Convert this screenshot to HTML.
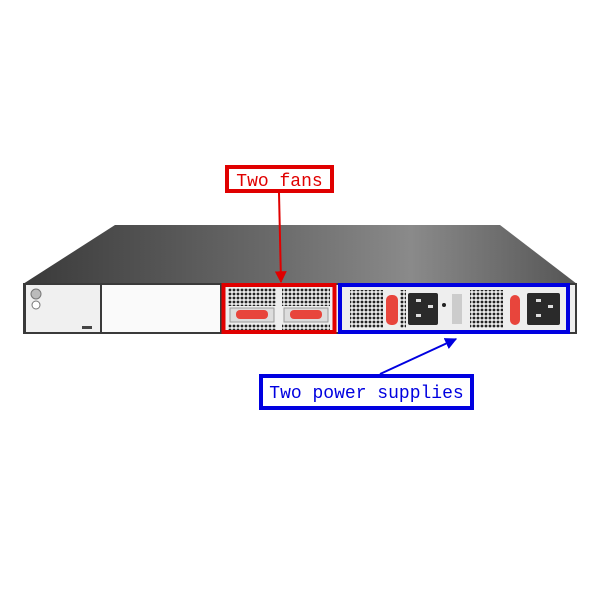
<!DOCTYPE html>
<html><head><meta charset="utf-8"><style>
html,body{margin:0;padding:0;background:#fff;width:600px;height:600px;overflow:hidden}
</style></head><body>
<svg width="600" height="600" viewBox="0 0 600 600" xmlns="http://www.w3.org/2000/svg">
<defs>
<linearGradient id="top" x1="0" y1="0" x2="1" y2="0">
<stop offset="0" stop-color="#3a3a3a"/><stop offset="0.45" stop-color="#6a6a6a"/><stop offset="0.7" stop-color="#8a8a8a"/><stop offset="1" stop-color="#555"/>
</linearGradient>
<pattern id="holes" width="4" height="4" patternUnits="userSpaceOnUse">
<rect width="4" height="4" fill="#e8e8e8"/><circle cx="2" cy="2" r="1.4" fill="#222"/>
</pattern>
<marker id="ar" viewBox="0 0 10 10" refX="9" refY="5" markerWidth="6" markerHeight="6" orient="auto"><path d="M0,0L10,5L0,10z" fill="#e00000"/></marker>
<marker id="ab" viewBox="0 0 10 10" refX="9" refY="5" markerWidth="6" markerHeight="6" orient="auto"><path d="M0,0L10,5L0,10z" fill="#0000e0"/></marker>
</defs>
<polygon points="115,225 500,225 577,284 23,284" fill="url(#top)"/>
<rect x="23" y="283" width="554" height="51" fill="#3a3a3a"/>
<rect x="26" y="285" width="74" height="47" fill="#f0f0f0"/>
<circle cx="36" cy="294" r="5" fill="#bbb" stroke="#777"/>
<circle cx="36" cy="305" r="4" fill="#fff" stroke="#777"/>
<rect x="82" y="326" width="10" height="3" fill="#444"/>
<rect x="102" y="285" width="118" height="47" fill="#fafafa"/>
<rect x="222" y="285" width="353" height="47" fill="#eee"/>
<!-- fans -->
<g>
<rect x="228" y="288" width="48" height="18" fill="url(#holes)"/>
<rect x="230" y="308" width="44" height="14" fill="#ddd" stroke="#999"/>
<rect x="236" y="310" width="32" height="9" rx="4" fill="#e8453c"/>
<rect x="228" y="324" width="48" height="6" fill="url(#holes)"/>
<rect x="282" y="288" width="48" height="18" fill="url(#holes)"/>
<rect x="284" y="308" width="44" height="14" fill="#ddd" stroke="#999"/>
<rect x="290" y="310" width="32" height="9" rx="4" fill="#e8453c"/>
<rect x="282" y="324" width="48" height="6" fill="url(#holes)"/>
</g>
<!-- PSUs -->
<rect x="350" y="290" width="33" height="38" fill="url(#holes)"/>
<rect x="386" y="295" width="12" height="30" rx="5" fill="#e8453c"/>
<rect x="400" y="290" width="6" height="38" fill="url(#holes)"/>
<rect x="408" y="293" width="30" height="32" rx="2" fill="#2a2a2a"/>
<rect x="416" y="299" width="5" height="3" fill="#ddd"/><rect x="428" y="305" width="5" height="3" fill="#ddd"/><rect x="416" y="314" width="5" height="3" fill="#ddd"/>
<circle cx="444" cy="305" r="2" fill="#222"/>
<rect x="452" y="294" width="10" height="30" fill="#ccc"/>
<rect x="470" y="290" width="33" height="38" fill="url(#holes)"/>
<rect x="510" y="295" width="10" height="30" rx="5" fill="#e8453c"/>
<rect x="527" y="293" width="33" height="32" rx="2" fill="#2a2a2a"/>
<rect x="536" y="299" width="5" height="3" fill="#ddd"/><rect x="548" y="305" width="5" height="3" fill="#ddd"/><rect x="536" y="314" width="5" height="3" fill="#ddd"/>
<!-- highlight boxes -->
<rect x="223.5" y="285" width="111" height="47" fill="none" stroke="#e00000" stroke-width="4"/>
<rect x="340" y="285" width="228" height="47" fill="none" stroke="#0000e0" stroke-width="4"/>
<!-- labels -->
<rect x="227" y="167" width="105" height="24" fill="#fff" stroke="#e00000" stroke-width="4"/>
<text x="279.5" y="186" text-anchor="middle" font-family="Liberation Mono, monospace" font-size="18" fill="#e00000">Two fans</text>
<line x1="279" y1="193" x2="281" y2="282" stroke="#e00000" stroke-width="2" marker-end="url(#ar)"/>
<rect x="261" y="376" width="211" height="32" fill="#fff" stroke="#0000e0" stroke-width="4"/>
<text x="366.5" y="398" text-anchor="middle" font-family="Liberation Mono, monospace" font-size="18" fill="#0000e0">Two power supplies</text>
<line x1="380" y1="374" x2="456" y2="339" stroke="#0000e0" stroke-width="2" marker-end="url(#ab)"/>
</svg>
</body></html>
